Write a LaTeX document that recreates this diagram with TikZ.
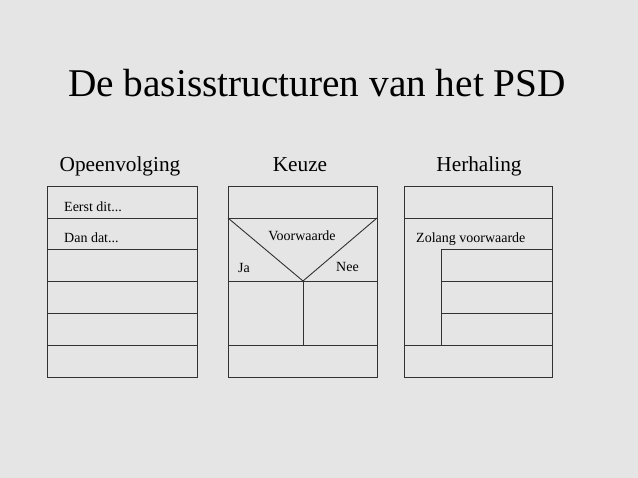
\documentclass[tikz,border=0pt]{standalone}
\usepackage{fontspec}
\setmainfont{Liberation Serif}
\definecolor{slide}{RGB}{229,229,229}
\definecolor{rule}{RGB}{50,50,50}
\tikzset{
  psd/.style={draw=rule,line width=0.9pt},
  kop/.style={anchor=base,font=\fontsize{21.3}{24}\selectfont},
  tekst/.style={anchor=base west,font=\fontsize{14}{16}\selectfont}
}
\begin{document}
\begin{tikzpicture}[x=1pt,y=-1pt,every node/.style={inner sep=0pt}]
			\fill[slide] (0,0) rectangle (638,478);
			\useasboundingbox (0,0) rectangle (638,478);
			\node[anchor=base,font=\fontsize{39.3}{42}\selectfont] (titel) at (317,97) {De basisstructuren van het PSD};
			%kopjes
			\node[kop] (opeen) at (120,172) {Opeenvolging};
			\node[kop] (keuze) at (300,172) {Keuze};
			\node[kop] (herh) at (479,172) {Herhaling};
			%opeenvolging
			\draw[psd] (47,186) rectangle (197,377);
			\foreach \y in {218,249,281,313,345}
				\draw[psd] (47,\y)--(197,\y);
			\node[tekst] (eerst) at (64,212) {Eerst dit...};
			\node[tekst] (dan) at (64,243) {Dan dat...};
			%keuze
			\draw[psd] (228,186) rectangle (377,377);
			\draw[psd] (228,218)--(377,218);
			\draw[psd] (228,218)--(303,281)--(377,218);
			\draw[psd] (228,281)--(377,281);
			\draw[psd] (303,281)--(303,345);
			\draw[psd] (228,345)--(377,345);
			\node[tekst,anchor=base] (voorw) at (302,241) {Voorwaarde};
			\node[tekst] (ja) at (238,273) {Ja};
			\node[tekst] (nee) at (336,272) {Nee};
			%herhaling
			\draw[psd] (404,186) rectangle (552,377);
			\draw[psd] (404,218)--(552,218);
			\draw[psd] (441,345)--(441,249)--(552,249);
			\draw[psd] (441,281)--(552,281);
			\draw[psd] (441,313)--(552,313);
			\draw[psd] (404,345)--(552,345);
			\node[tekst] (zolang) at (416,243) {Zolang voorwaarde};
		\end{tikzpicture}
\end{document}
